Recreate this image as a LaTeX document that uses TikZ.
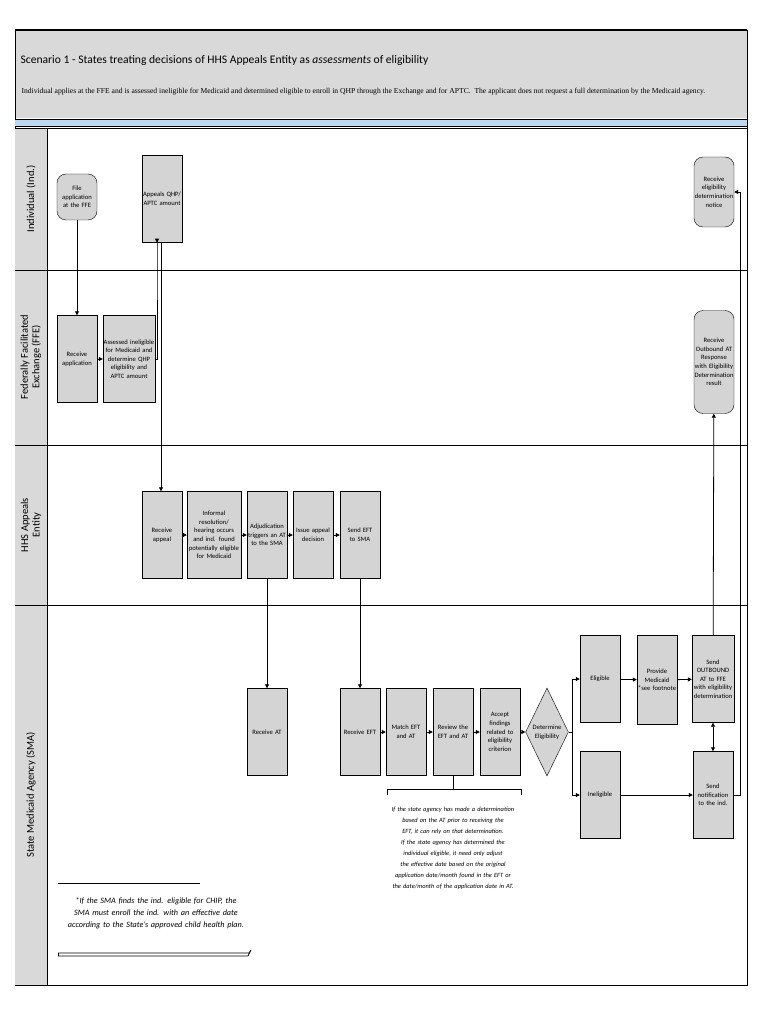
\documentclass[tikz,border=0pt]{standalone}
\usepackage{fontspec}
\setmainfont{Carlito}
\newfontfamily\serifx{Liberation Serif}
\usetikzlibrary{shapes.geometric,arrows.meta}
\definecolor{boxgray}{HTML}{D4D4D4}
\definecolor{hdrgray}{HTML}{D9D9D9}
\definecolor{laneblue}{HTML}{BDD7EE}
\begin{document}
\hyphenpenalty=10000 \exhyphenpenalty=10000
\begin{tikzpicture}[x=1pt,y=-1pt,
  box/.style={draw,fill=boxgray,align=center,inner sep=0.5pt,font=\fontsize{6.6}{8.6}\selectfont,minimum width=40pt,minimum height=87pt,text width=39pt},
  pill/.style={box,rounded corners=9pt},
  arr/.style={-{Triangle[length=4pt,width=4pt]},line width=0.8pt},
  lane/.style={font=\fontsize{10.5}{11.5}\selectfont,rotate=90,align=center}]
\useasboundingbox (0,0) rectangle (768,1024);
% frame and header
\fill[hdrgray] (15,30) rectangle (747,118);
\draw[line width=2pt] (15,30) -- (747,30);
\draw (15,30) rectangle (747,985);
\fill[laneblue] (15,119) rectangle (747,126);
\draw (15,119) -- (747,119) (15,126) -- (747,126);
\node[anchor=west,font=\fontsize{11.6}{14}\selectfont] (title) at (17,60) {Scenario 1 - States treating decisions of HHS Appeals Entity as \textit{assessments} of eligibility};
\node[anchor=west,font=\serifx\fontsize{7.6}{9}\selectfont] (sub) at (18,92) {Individual applies at the FFE and is assessed ineligible for Medicaid and determined eligible to enroll in QHP through the Exchange and for APTC.\ \ The applicant does not request a full determination by the Medicaid agency.};
% lanes
\fill[hdrgray] (15,128) rectangle (47,985);
\draw (15,128) -- (747,128);
\draw (47,128) -- (47,985);
\draw[line width=1pt] (15,270) -- (747,270) (15,445) -- (747,445) (15,605) -- (747,605);
\node[lane] (l1) at (31,199) {Individual (Ind.)};
\node[lane] (l2) at (31,357) {Federally Facilitated\\Exchange (FFE)};
\node[lane] (l3) at (31,525) {HHS Appeals\\Entity};
\node[lane] (l4) at (31,795) {State Medicaid Agency (SMA)};
% nodes
\node[pill,minimum height=46pt,minimum width=40pt] (file) at (77,197) {File application at the FFE};
\node[box] (appeals) at (162,199) {Appeals QHP/ APTC amount};
\node[box] (recapp) at (77,359) {Receive application};
\node[box,minimum width=52pt,text width=51pt] (assess) at (129,359) {Assessed ineligible for Medicaid and determine QHP eligibility and APTC amount};
\node[pill,minimum height=70pt] (notice) at (714,192) {Receive eligibility determination notice};
\node[pill,minimum height=103pt] (outbnd) at (714,362) {Receive Outbound AT Response with Eligibility Determination result};
\node[box] (recappeal) at (162,535) {Receive appeal};
\node[box,minimum width=53pt,text width=53pt] (informal) at (214,535) {Informal resolution/ hearing occurs and ind. found potentially eligible for Medicaid};
\node[box] (adj) at (267,535) {Adjudication triggers an AT to the SMA};
\node[box] (issue) at (313,535) {Issue appeal decision};
\node[box] (sendeft) at (360,535) {Send EFT to SMA};
\node[box] (recat) at (267,732) {Receive AT};
\node[box] (receft) at (360,732) {Receive EFT};
\node[box] (match) at (406,732) {Match EFT and AT};
\node[box] (review) at (453,732) {Review the EFT and AT};
\node[box] (accept) at (500,732) {Accept findings related to eligibility criterion};
\node[diamond,draw,fill=boxgray,minimum width=40pt,minimum height=88pt,inner sep=0pt,align=center,font=\fontsize{6.6}{8.6}\selectfont] (det) at (547,732) {Determine\\Eligibility};
\node[box] (elig) at (600,679) {Eligible};
\node[box,minimum height=89pt] (provide) at (657,680) {Provide Medicaid *see footnote};
\node[box,text width=41pt] (sendout) at (713,679) {Send OUTBOUND AT to FFE with eligibility determination};
\node[box] (inelig) at (600,795) {Ineligible};
\node[box] (sendnot) at (713,795) {Send notification to the ind.};
% edges
\draw[arr] (file) -- (recapp);
\draw[arr] (recapp) -- (assess);
\draw[arr] (assess.east) -| (157,242) -- (appeals.south -| 157,0);
\draw[arr] (appeals.south -| 161,0) -- (recappeal.north -| 161,0);
\draw[arr] (recappeal) -- (informal);
\draw[arr] (informal) -- (adj);
\draw[arr] (adj) -- (issue);
\draw[arr] (issue) -- (sendeft);
\draw[arr] (adj) -- (recat);
\draw[arr] (sendeft) -- (receft);
\draw[arr] (receft) -- (match);
\draw[arr] (match) -- (review);
\draw[arr] (review) -- (accept);
\draw[arr] (accept) -- (det);
\coordinate (split) at (572,732);
\draw[line width=0.8pt] (det.east) -- (split);
\draw[arr] (split) |- (elig.west);
\draw[arr] (split) |- (inelig.west);
\draw[arr] (elig) -- (provide);
\draw[arr] (provide) -- (sendout);
\draw[arr] (inelig) -- (sendnot);
\draw[{Triangle[length=4pt,width=4pt]}-{Triangle[length=4pt,width=4pt]},line width=0.8pt] (sendout) -- (sendnot);
\draw[arr] (sendout) -- (outbnd);
\coordinate (rt) at (740,795);
\draw[arr] (sendnot.east) -- (rt) |- (notice.east);
% bracket note
\coordinate (br) at (453,789);
\draw (review.south) -- (br);
\draw (387,795) -- (387,789) -- (521,789) -- (521,795);
\node[font=\fontsize{6.4}{11}\selectfont\itshape,align=center,text width=138pt] (note) at (453,848) {If the state agency has made a determination based on the AT prior to receiving the EFT, it can rely on that determination.\\If the state agency has determined the individual eligible, it need only adjust the effective date based on the original application date/month found in the EFT or the date/month of the application date in AT.};
% footnote
\draw[line width=1pt] (58,883) -- (200,883);
\node[font=\fontsize{8.2}{12}\selectfont\itshape,align=center,text width=200pt] (foot) at (156,913) {*If the SMA finds the ind. eligible for CHIP, the SMA must enroll the ind. with an effective date according to the State's approved child health plan.};
\draw[line width=0.8pt] (58,953) -- (249,953) -- (251,950) (58,956) -- (248,956) -- (251,950);
\draw (58,953) -- (58,956);
\end{tikzpicture}
\end{document}
